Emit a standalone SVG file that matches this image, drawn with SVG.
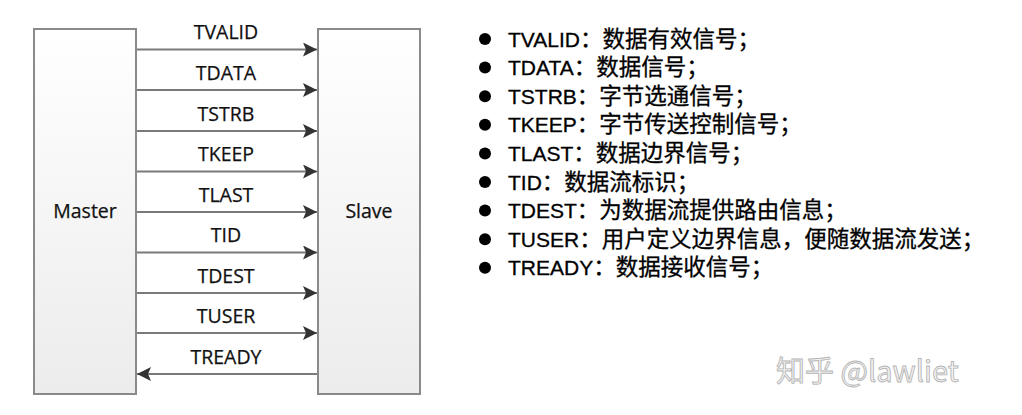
<svg xmlns="http://www.w3.org/2000/svg" width="1022" height="415" viewBox="0 0 1022 415">
<defs>
<linearGradient id="boxg" x1="0" y1="0" x2="0" y2="1">
<stop offset="0" stop-color="#ffffff"/>
<stop offset="1" stop-color="#ececec"/>
</linearGradient>
<marker id="ah" viewBox="0 0 14 14" refX="14" refY="7" markerWidth="14" markerHeight="14" markerUnits="userSpaceOnUse" orient="auto">
<path d="M0,0 L14,7 L0,14 L3,7 Z" fill="#333"/>
</marker>
<style>
.box{fill:url(#boxg);stroke:#8a8a8a;stroke-width:2}
.conn line{stroke:#7a7a7a;stroke-width:2;marker-end:url(#ah)}
.sig{font-family:"Open Sans","Liberation Sans",sans-serif;font-size:19.5px;fill:#111;text-anchor:middle;stroke:#111;stroke-width:0.25}
.nl{font-family:"Open Sans","Liberation Sans",sans-serif;font-size:19.5px;fill:#111;text-anchor:middle;stroke:#111;stroke-width:0.25}
.li{font-family:"Liberation Sans","Noto Sans CJK SC",sans-serif;font-size:21px;fill:#000;stroke:#000;stroke-width:0.3}
.cj{font-family:"Noto Sans CJK SC",sans-serif;font-size:22.5px}
.bul{fill:#000}
.wm{font-family:"Noto Sans CJK SC","Liberation Sans",sans-serif;font-size:29px;fill:#f4f4f4;stroke:#b5b5b5;stroke-width:0.9}
</style>
</defs>
<rect width="1022" height="415" fill="#ffffff"/>
<g id="master"><rect class="box" x="34" y="29" width="102" height="365"/><text class="nl" x="85" y="218">Master</text></g>
<g id="slave"><rect class="box" x="318" y="29" width="102" height="365"/><text class="nl" x="369" y="218">Slave</text></g>
<g class="conn" id="connectors">
<line x1="137" y1="49.5" x2="317" y2="49.5"/>
<line x1="137" y1="90" x2="317" y2="90"/>
<line x1="137" y1="131" x2="317" y2="131"/>
<line x1="137" y1="171.5" x2="317" y2="171.5"/>
<line x1="137" y1="212" x2="317" y2="212"/>
<line x1="137" y1="252.5" x2="317" y2="252.5"/>
<line x1="137" y1="293" x2="317" y2="293"/>
<line x1="137" y1="333" x2="317" y2="333"/>
<line x1="317" y1="374" x2="137" y2="374"/>
</g>
<g id="signal-labels">
<text class="sig" x="226" y="39">TVALID</text>
<text class="sig" x="226" y="80">TDATA</text>
<text class="sig" x="226" y="120.5">TSTRB</text>
<text class="sig" x="226" y="161">TKEEP</text>
<text class="sig" x="226" y="201.5">TLAST</text>
<text class="sig" x="226" y="242">TID</text>
<text class="sig" x="226" y="283">TDEST</text>
<text class="sig" x="226" y="323">TUSER</text>
<text class="sig" x="226" y="364">TREADY</text>
</g>
<g id="legend">
<circle class="bul" cx="485" cy="39" r="6"/><text class="li" x="508" y="46.5">TVALID<tspan class="cj">：数据有效信号；</tspan></text>
<circle class="bul" cx="485" cy="67.6" r="6"/><text class="li" x="508" y="75">TDATA<tspan class="cj">：数据信号；</tspan></text>
<circle class="bul" cx="485" cy="96.2" r="6"/><text class="li" x="508" y="103.7">TSTRB<tspan class="cj">：字节选通信号；</tspan></text>
<circle class="bul" cx="485" cy="124.8" r="6"/><text class="li" x="508" y="132.3">TKEEP<tspan class="cj">：字节传送控制信号；</tspan></text>
<circle class="bul" cx="485" cy="153.4" r="6"/><text class="li" x="508" y="160.9">TLAST<tspan class="cj">：数据边界信号；</tspan></text>
<circle class="bul" cx="485" cy="182" r="6"/><text class="li" x="508" y="189.5">TID<tspan class="cj">：数据流标识；</tspan></text>
<circle class="bul" cx="485" cy="210.6" r="6"/><text class="li" x="508" y="218">TDEST<tspan class="cj">：为数据流提供路由信息；</tspan></text>
<circle class="bul" cx="485" cy="239.2" r="6"/><text class="li" x="508" y="246.7">TUSER<tspan class="cj">：用户定义边界信息，便随数据流发送；</tspan></text>
<circle class="bul" cx="485" cy="267.8" r="6"/><text class="li" x="508" y="275.3">TREADY<tspan class="cj">：数据接收信号；</tspan></text>
</g>
<text class="wm" x="776" y="382">知乎 @lawliet</text>
</svg>
